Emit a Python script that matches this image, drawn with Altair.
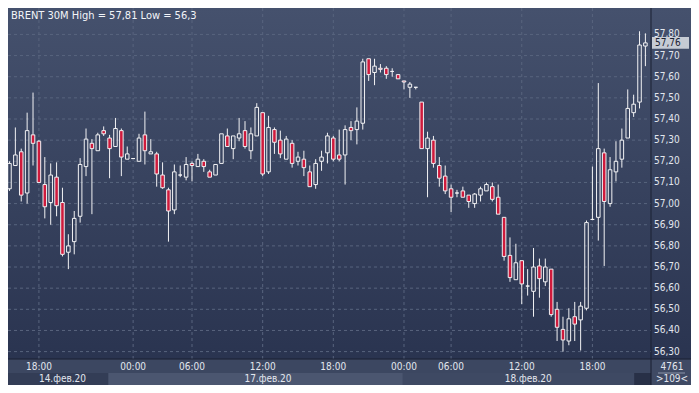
import altair as alt
import pandas as pd

# ---------------- data ----------------
opens = [57.07, 57.18, 57.245, 57.05, 57.325, 57.295, 57.09, 57.005, 57.125, 57.005,
         56.77, 56.82, 56.94, 57.175, 57.285, 57.25, 57.345, 57.31, 57.27, 57.345,
         57.21, 57.213, 57.20, 57.325, 57.235, 57.235, 57.135, 57.065, 56.97, 57.135,
         57.125, 57.19, 57.175, 57.20, 57.15, 57.135, 57.19, 57.32, 57.26, 57.31,
         57.345, 57.25, 57.32, 57.43, 57.15, 57.35, 57.30, 57.21, 57.285, 57.20,
         57.21, 57.15, 57.09, 57.20, 57.24, 57.31, 57.23, 57.23, 57.36, 57.35,
         57.38, 57.685, 57.62, 57.64, 57.64, 57.625, 57.61, 57.58, 57.55, 57.55,
         57.48, 57.26, 57.30, 57.18, 57.13, 57.07, 57.05, 57.06, 57.04, 57.00,
         57.04, 57.06, 57.08, 57.03, 56.935, 56.755, 56.64, 56.73, 56.61, 56.585,
         56.705, 56.63, 56.69, 56.50, 56.405, 56.35, 56.465, 56.45, 56.505, 56.925,
         56.935, 57.24, 57.00, 57.15, 57.21, 57.31, 57.43, 57.48, 57.745]
highs = [57.20, 57.36, 57.26, 57.43, 57.525, 57.30, 57.22, 57.19, 57.195, 57.075,
         56.855, 56.965, 57.215, 57.355, 57.305, 57.335, 57.365, 57.325, 57.405, 57.355,
         57.27, 57.213, 57.33, 57.435, 57.305, 57.245, 57.195, 57.075, 57.185, 57.18,
         57.22, 57.20, 57.235, 57.21, 57.16, 57.185, 57.33, 57.355, 57.32, 57.405,
         57.39, 57.36, 57.475, 57.43, 57.415, 57.36, 57.345, 57.32, 57.30, 57.245,
         57.25, 57.18, 57.21, 57.25, 57.335, 57.32, 57.35, 57.37, 57.39, 57.455,
         57.685, 57.685, 57.685, 57.66, 57.65, 57.64, 57.61, 57.58, 57.575, 57.55,
         57.48, 57.34, 57.32, 57.22, 57.18, 57.09, 57.065, 57.08, 57.04, 57.05,
         57.08, 57.10, 57.10, 57.09, 56.935, 56.84, 56.81, 56.73, 56.69, 56.79,
         56.74, 56.74, 56.69, 56.535, 56.465, 56.505, 56.535, 56.535, 56.92, 57.175,
         57.57, 57.26, 57.22, 57.295, 57.355, 57.54, 57.515, 57.815, 57.805]
lows = [57.06, 57.18, 57.01, 57.00, 57.18, 57.10, 56.93, 56.90, 56.94, 56.75,
        56.69, 56.76, 56.91, 57.13, 56.95, 57.25, 57.32, 57.12, 57.27, 57.13,
        57.21, 57.213, 57.20, 57.185, 57.235, 57.08, 57.07, 56.82, 56.95, 57.125,
        57.11, 57.105, 57.175, 57.15, 57.125, 57.135, 57.19, 57.27, 57.21, 57.295,
        57.26, 57.21, 57.32, 57.13, 57.14, 57.235, 57.215, 57.21, 57.17, 57.18,
        57.13, 57.08, 57.07, 57.155, 57.19, 57.20, 57.20, 57.09, 57.30, 57.28,
        57.35, 57.58, 57.56, 57.62, 57.59, 57.60, 57.59, 57.54, 57.50, 57.54,
        57.26, 57.03, 57.17, 57.08, 57.045, 56.96, 57.03, 57.03, 56.98, 56.98,
        57.01, 57.06, 57.01, 56.95, 56.73, 56.63, 56.64, 56.525, 56.565, 56.465,
        56.555, 56.61, 56.465, 56.35, 56.30, 56.33, 56.35, 56.305, 56.495, 56.925,
        56.825, 56.705, 56.985, 57.105, 57.17, 57.31, 57.41, 57.45, 57.65]
closes = [57.19, 57.23, 57.04, 57.345, 57.285, 57.10, 56.985, 57.135, 56.99, 56.76,
          56.80, 56.93, 57.185, 57.305, 57.26, 57.325, 57.33, 57.26, 57.355, 57.22,
          57.235, 57.213, 57.31, 57.25, 57.245, 57.14, 57.075, 56.965, 57.15, 57.135,
          57.185, 57.18, 57.21, 57.175, 57.125, 57.185, 57.33, 57.27, 57.32, 57.33,
          57.27, 57.33, 57.455, 57.14, 57.36, 57.29, 57.235, 57.305, 57.19, 57.22,
          57.17, 57.08, 57.19, 57.22, 57.32, 57.21, 57.21, 57.35, 57.345, 57.39,
          57.67, 57.61, 57.65, 57.635, 57.61, 57.625, 57.59, 57.575, 57.565, 57.55,
          57.26, 57.31, 57.19, 57.12, 57.06, 57.03, 57.05, 57.03, 57.01, 57.045,
          57.07, 57.09, 57.02, 56.95, 56.75, 56.65, 56.72, 56.62, 56.61, 56.70,
          56.645, 56.70, 56.475, 56.415, 56.355, 56.455, 56.43, 56.515, 56.91, 56.925,
          57.26, 57.01, 57.16, 57.20, 57.30, 57.45, 57.47, 57.75, 57.76]

time_idx = [5, 21, 31, 43, 55, 67, 75, 87, 99]
time_lbl = ["18:00", "00:00", "06:00", "12:00", "18:00", "00:00", "06:00", "12:00", "18:00"]
price_ticks = [56.3, 56.4, 56.5, 56.6, 56.7, 56.8, 56.9, 57.0, 57.1, 57.2,
               57.3, 57.4, 57.5, 57.6, 57.7, 57.8]
day_key = ["d14", "d17", "d18", "end"]
day_lbl = ["14.фев.20", "17.фев.20", "18.фев.20", ""]
day_start = [-0.25, 16.8, 66.8, 106.1]
day_end = [16.8, 66.8, 106.1, 108.95]
day_mid = [9.0, 43.9, 88.1, 107.5]
title_text = "BRENT 30M High = 57,81 Low = 56,3"
counter_text = "4761"
bars_text = ">109<"

# ---------------- layout / style ----------------
W, H = 643, 351
RP, BP = 40, 26
FONT = "Liberation Sans Narrow, DejaVu Sans Condensed, Arial Narrow, sans-serif"
TXT = "#e2e6ee"
RED = "#cf1a3c"
WHITE = "#f2f2f4"
GRID = "#58647e"
DARK = "#1a2132"

df = pd.DataFrame({"i": list(range(len(opens))), "o": opens, "h": highs, "l": lows, "c": closes})
df["top"] = df[["o", "c"]].max(axis=1)
df["bot"] = df[["o", "c"]].min(axis=1)

xs = alt.Scale(domain=[-0.25, 108.95], nice=False, zero=False)
ys = alt.Scale(domain=[56.265, 57.925], nice=False, zero=False)

one = pd.DataFrame({"k": [0]})

bg = alt.Chart(one).mark_rect(
    fill=alt.Gradient(gradient="linear",
                      stops=[alt.GradientStop(color="#45516d", offset=0),
                             alt.GradientStop(color="#2a3450", offset=1)],
                      x1=0, x2=0, y1=0, y2=1)
).encode(x=alt.value(0), x2=alt.value(W + RP), y=alt.value(0), y2=alt.value(H))

ticks_df = pd.DataFrame({"v": price_ticks})
grid_y = alt.Chart(ticks_df).mark_rule(
    color=GRID, strokeDash=[3, 3], strokeWidth=1
).encode(y=alt.Y("v:Q", scale=ys, axis=None), x=alt.value(0), x2=alt.value(W))

times_df = pd.DataFrame({"v": time_idx, "t": time_lbl})
grid_x = alt.Chart(times_df).mark_rule(
    color=GRID, strokeDash=[3, 3], strokeWidth=1
).encode(x=alt.X("v:Q", scale=xs, axis=None), y=alt.value(0), y2=alt.value(H))

y_labels = alt.Chart(ticks_df).transform_calculate(
    t="replace(format(datum.v, '.2f'), '.', ',')"
).mark_text(font=FONT, fontSize=10, color=TXT, align="left", baseline="middle").encode(
    y=alt.Y("v:Q", scale=ys, axis=None), x=alt.value(W + 3), text="t:N")

x_labels = alt.Chart(times_df).mark_text(
    font=FONT, fontSize=10, color=TXT, align="center", baseline="middle"
).encode(x=alt.X("v:Q", scale=xs, axis=None), y=alt.value(H + 8), text="t:N")

base = alt.Chart(df)

wick_up = base.mark_rule(color=WHITE, strokeWidth=1, clip=True).encode(
    x=alt.X("i:Q", scale=xs, axis=None),
    y=alt.Y("h:Q", scale=ys, axis=None),
    y2="top:Q",
)

wick_dn = base.mark_rule(color=WHITE, strokeWidth=1, clip=True).encode(
    x=alt.X("i:Q", scale=xs, axis=None),
    y=alt.Y("bot:Q", scale=ys, axis=None),
    y2="l:Q",
)

bodies = base.transform_calculate(
    x0="datum.i - 0.3", x1="datum.i + 0.3"
).mark_rect(stroke=WHITE, strokeWidth=1, clip=True).encode(
    x=alt.X("x0:Q", scale=xs, axis=None),
    x2="x1:Q",
    y=alt.Y("top:Q", scale=ys, axis=None),
    y2="bot:Q",
    fill=alt.condition("datum.c >= datum.o", alt.value("transparent"), alt.value(RED)),
)

days = pd.DataFrame({"k": day_key, "t": day_lbl, "s": day_start, "e": day_end, "m": day_mid})
bands = alt.Chart(days).mark_rect().encode(
    x=alt.X("s:Q", scale=xs, axis=None),
    x2="e:Q",
    y=alt.value(H + 14),
    y2=alt.value(H + BP),
    fill=alt.Color("k:N", scale=alt.Scale(domain=day_key,
                                          range=["#333d56", "#4b5670", "#3e4963", "#283047"]),
                   legend=None),
)
day_text = alt.Chart(days).mark_text(
    font=FONT, fontSize=10, color=TXT, baseline="middle", align="center"
).encode(x=alt.X("m:Q", scale=xs, axis=None), y=alt.value(H + 20), text="t:N")

title = alt.Chart(pd.DataFrame({"t": [title_text]})).mark_text(
    font=FONT, fontSize=11, color="#f3f5f9", align="left", baseline="middle"
).encode(x=alt.value(3), y=alt.value(8), text="t:N")

last = pd.DataFrame({"p": [closes[-1]], "t": [f"{closes[-1]:.2f}".replace(".", ",")]})
tag_box = alt.Chart(last).transform_calculate(
    p1="datum.p + 0.028", p2="datum.p - 0.028"
).mark_rect(fill="#c6cbd4").encode(
    y=alt.Y("p1:Q", scale=ys, axis=None), y2="p2:Q",
    x=alt.value(W + 1), x2=alt.value(W + 38))
tag_text = alt.Chart(last).mark_text(
    font=FONT, fontSize=10, color="#1c2232", align="left", baseline="middle"
).encode(y=alt.Y("p:Q", scale=ys, axis=None), x=alt.value(W + 4), text="t:N")

corner = pd.DataFrame({"t": [counter_text], "b": [bars_text]})
corner_bg = alt.Chart(one).mark_rect(fill="#3f4a64").encode(
    x=alt.value(W + 1), x2=alt.value(W + RP), y=alt.value(H + 1), y2=alt.value(H + BP))
right_line = alt.Chart(one).mark_rule(color=DARK).encode(
    x=alt.value(W), y=alt.value(0), y2=alt.value(H + BP))
bottom_line = alt.Chart(one).mark_rule(color=DARK).encode(
    x=alt.value(0), x2=alt.value(W + RP), y=alt.value(H))
corner_line = alt.Chart(one).mark_rule(color="#8b94a8").encode(
    x=alt.value(W + 7), x2=alt.value(W + 34), y=alt.value(H + 14))
corner_t1 = alt.Chart(corner).mark_text(
    font=FONT, fontSize=10, color=TXT, align="center", baseline="middle"
).encode(x=alt.value(W + 21), y=alt.value(H + 8), text="t:N")
corner_t2 = alt.Chart(corner).mark_text(
    font=FONT, fontSize=10, color=TXT, align="center", baseline="middle"
).encode(x=alt.value(W + 21), y=alt.value(H + 20), text="b:N")

chart = alt.layer(
    bg, grid_y, grid_x, bands, day_text, x_labels, y_labels,
    wick_up, wick_dn, bodies, tag_box, tag_text, title,
    corner_bg, right_line, bottom_line, corner_line, corner_t1, corner_t2
).properties(
    width=W, height=H,
    autosize=alt.AutoSizeParams(type="none"),
    padding={"left": 0, "top": 0, "right": RP, "bottom": BP},
    background="#3c4761",
).configure_view(strokeWidth=0)

chart.save("out.html", embed_options={"renderer": "svg", "actions": False})
